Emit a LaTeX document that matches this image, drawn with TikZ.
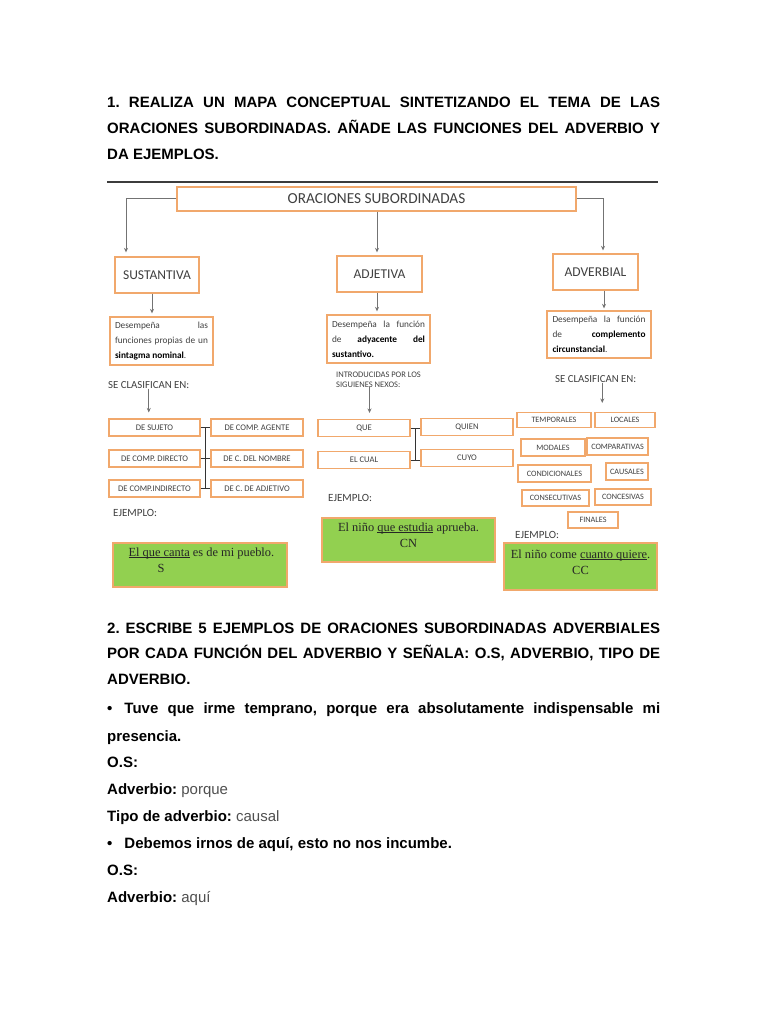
\documentclass[tikz,border=0pt]{standalone}
\usepackage{fontspec}
\setmainfont{Liberation Sans}
\newfontfamily\calibri{Carlito}
\newfontfamily\serifejemplo{Liberation Serif}
\usetikzlibrary{arrows.meta,calc,positioning}
\frenchspacing

\definecolor{naranjaborde}{RGB}{241,168,108}
\definecolor{verdeejemplo}{RGB}{146,208,80}
\definecolor{grisflecha}{RGB}{115,115,115}
\definecolor{grismapa}{RGB}{64,64,64}
\definecolor{griscuerpo}{RGB}{80,80,80}
\definecolor{grisregla}{RGB}{60,60,60}

\newcommand{\renglon}[1]{\makebox[553pt][s]{#1}}
\newcommand{\renglonmapa}[1]{\makebox[93pt][s]{#1}}
\newcommand{\negrita}[1]{\textbf{\color{black}#1}}
\newsavebox{\cajasub}
\newcommand{\subrayar}[1]{\sbox\cajasub{#1}\rlap{\rule[-1.8pt]{\wd\cajasub}{0.6pt}}\usebox\cajasub}

\begin{document}
\begin{tikzpicture}[x=1pt, y=-1pt, >={Stealth[length=4.5pt,width=4pt]},
    % Estilos de texto
    enunciado/.style={anchor=base west, inner sep=0pt, font=\fontsize{15}{15}\selectfont\bfseries},
    % Estilos del mapa
    caja/.style={draw=naranjaborde, line width=1.3pt, fill=white, inner sep=0pt,
        text=grismapa, font=\calibri\fontsize{13.5}{13.5}\selectfont},
    cajadesc/.style={caja, minimum width=103pt, minimum height=48pt, align=left,
        font=\calibri\fontsize{9.3}{15}\selectfont},
    celda/.style={caja, line width=1.1pt, minimum height=17pt,
        font=\calibri\fontsize{8.6}{8.6}\selectfont},
    rotulo/.style={anchor=west, inner sep=0pt, text=grismapa,
        font=\calibri\fontsize{10.8}{10.8}\selectfont},
    cajaverde/.style={draw=naranjaborde, line width=1.3pt, fill=verdeejemplo, inner sep=0pt},
    frase/.style={inner sep=0pt, text=black!85, font=\serifejemplo\fontsize{12.4}{16}\selectfont},
    flecha/.style={->, draw=grisflecha, line width=1pt},
    corchete/.style={draw=black!80, line width=0.9pt}
]
\useasboundingbox[fill=white] (0,0) rectangle (768,1024);

% =============================================
% CONSIGNA 1
% =============================================
\node[enunciado] (consigna1) at (107,108)
    {\renglon{1. REALIZA UN MAPA CONCEPTUAL SINTETIZANDO EL TEMA DE LAS}};
\node[enunciado] (consigna2) at (107,134)
    {\renglon{ORACIONES SUBORDINADAS. AÑADE LAS FUNCIONES DEL ADVERBIO Y}};
\node[enunciado] (consigna3) at (107,160) {DA EJEMPLOS.};

\draw[grisregla, line width=2pt] (107,182) -- (658,182);

% =============================================
% MAPA: NIVEL SUPERIOR
% =============================================
\node[caja, minimum width=399pt, minimum height=24pt, font=\calibri\fontsize{15.3}{15.3}\selectfont]
    (oraciones) at (376.5,199) {ORACIONES SUBORDINADAS};

\node[caja, minimum width=84pt, minimum height=36pt] (sust) at (157,275) {SUSTANTIVA};
\node[caja, minimum width=85pt, minimum height=36pt] (adj) at (379.5,274) {ADJETIVA};
\node[caja, minimum width=85pt, minimum height=36pt] (adv) at (595.5,272) {ADVERBIAL};

\coordinate (bajasust) at ([xshift=-31pt]sust.north);
\coordinate (bajaadj) at ([xshift=-2.5pt]adj.north);
\coordinate (bajaadv) at ([xshift=7.5pt]adv.north);

\draw[flecha, shorten >=4pt] (oraciones.west) -| (bajasust);
\draw[flecha, shorten >=3pt] (bajaadj |- oraciones.south) -- (bajaadj);
\draw[flecha, shorten >=3pt] (oraciones.east) -| (bajaadv);

% =============================================
% DESCRIPCIONES
% =============================================
\node[cajadesc] (sdesc) at (161.5,341)
    {\renglonmapa{Desempeña las}\\\renglonmapa{funciones propias de un}\\\negrita{sintagma nominal}.};
\node[cajadesc] (adesc) at (378.5,339)
    {\renglonmapa{Desempeña la función}\\\renglonmapa{de \negrita{adyacente} \negrita{del}}\\\negrita{sustantivo.}};
\node[cajadesc, minimum width=104pt, minimum height=47pt] (vdesc) at (599,334.5)
    {\renglonmapa{Desempeña la función}\\\renglonmapa{de \negrita{complemento}}\\\negrita{circunstancial}.};

\coordinate (piesust) at ([xshift=-5pt]sust.south);
\coordinate (pieadj) at ([xshift=-2.5pt]adj.south);
\coordinate (pieadv) at ([xshift=8.5pt]adv.south);

\draw[flecha, shorten >=3pt] (piesust) -- (piesust |- sdesc.north);
\draw[flecha, shorten >=3pt] (pieadj) -- (pieadj |- adesc.north);
\draw[flecha, shorten >=2pt] (pieadv) -- (pieadv |- vdesc.north);

% =============================================
% CLASIFICACION SUSTANTIVA
% =============================================
\node[rotulo] (sclasif) at (108,385) {SE CLASIFICAN EN:};

\node[celda, minimum width=91pt] (sujeto) at (154.5,427.5) {DE SUJETO};
\node[celda, minimum width=92pt] (agente) at (257,427.5) {DE COMP. AGENTE};
\node[celda, minimum width=91pt] (directo) at (154.5,458.5) {DE COMP. DIRECTO};
\node[celda, minimum width=92pt] (nombre) at (257,458.5) {DE C. DEL NOMBRE};
\node[celda, minimum width=91pt] (indirecto) at (154.5,488.5) {DE COMP.INDIRECTO};
\node[celda, minimum width=92pt] (adjetivo) at (257,488.5) {DE C. DE ADJETIVO};

\draw[flecha, shorten >=6pt] (sclasif.south) -- (sclasif.south |- sujeto.north);

\draw[corchete] (sujeto.east) -- (agente.west);
\draw[corchete] (directo.east) -- (nombre.west);
\draw[corchete] (indirecto.east) -- (adjetivo.west);
\draw[corchete] ($(sujeto.east)!.5!(agente.west)$) -- ($(indirecto.east)!.5!(adjetivo.west)$);

\node[rotulo, font=\calibri\fontsize{11}{11}\selectfont] (sejemplo) at (113,513) {EJEMPLO:};
\node[cajaverde, minimum width=174pt, minimum height=44pt] (sverde) at (200,565) {};
\node[frase, anchor=north west, align=left] (sfrase) at ([xshift=16pt,yshift=-5pt]sverde.north west)
    {\subrayar{El que canta} es de mi pueblo.\\\hspace*{29pt}S};

% =============================================
% NEXOS ADJETIVA
% =============================================
\node[rotulo, anchor=north west, align=left, font=\calibri\fontsize{8.5}{9.5}\selectfont]
    (nexos) at (336,372) {INTRODUCIDAS POR LOS\\SIGUIENES NEXOS:};

\node[celda, minimum width=92pt] (que) at (364,428) {QUE};
\node[celda, minimum width=92pt] (quien) at (467,427) {QUIEN};
\node[celda, minimum width=92pt] (elcual) at (364,460) {EL CUAL};
\node[celda, minimum width=92pt] (cuyo) at (467,458) {CUYO};

\coordinate (pienexos) at ([xshift=-9pt]nexos.south);
\draw[flecha, shorten >=6pt] (pienexos) -- (pienexos |- que.north);

\draw[corchete] (que.east) -- (que.east -| quien.west);
\draw[corchete] (elcual.east) -- (elcual.east -| cuyo.west);
\draw[corchete] ($(que.east)!.5!(que.east -| quien.west)$) -- ($(elcual.east)!.5!(elcual.east -| cuyo.west)$);

\node[rotulo, font=\calibri\fontsize{11}{11}\selectfont] (aejemplo) at (328,498) {EJEMPLO:};
\node[cajaverde, minimum width=173pt, minimum height=44pt] (averde) at (408.5,540) {};
\node[frase, anchor=north, align=center] (afrase) at ([yshift=-5pt]averde.north)
    {El niño \subrayar{que estudia} aprueba.\\CN};

% =============================================
% CLASIFICACION ADVERBIAL
% =============================================
\node[rotulo] (vclasif) at (555,379) {SE CLASIFICAN EN:};

\node[celda, minimum width=74pt, minimum height=15pt, font=\calibri\fontsize{8.2}{8.2}\selectfont] (temporales) at (554,420) {TEMPORALES};
\node[celda, minimum width=60pt, minimum height=15pt, font=\calibri\fontsize{8.2}{8.2}\selectfont] (locales) at (625,420) {LOCALES};
\node[celda, minimum width=64pt, font=\calibri\fontsize{8.2}{8.2}\selectfont] (modales) at (553,447.5) {MODALES};
\node[celda, minimum width=61pt, font=\calibri\fontsize{8.2}{8.2}\selectfont] (comparativas) at (617.5,446.5) {COMPARATIVAS};
\node[celda, minimum width=73pt, font=\calibri\fontsize{8.2}{8.2}\selectfont] (condicionales) at (554.5,473.5) {CONDICIONALES};
\node[celda, minimum width=42pt, font=\calibri\fontsize{8.2}{8.2}\selectfont] (causales) at (627,471.5) {CAUSALES};
\node[celda, minimum width=67pt, minimum height=16pt, font=\calibri\fontsize{8.2}{8.2}\selectfont] (consecutivas) at (555.5,498) {CONSECUTIVAS};
\node[celda, minimum width=56pt, minimum height=16pt, font=\calibri\fontsize{8.2}{8.2}\selectfont] (concesivas) at (623,497) {CONCESIVAS};
\node[celda, minimum width=50pt, minimum height=16pt, font=\calibri\fontsize{8.2}{8.2}\selectfont] (finales) at (593,520) {FINALES};

\coordinate (pievclasif) at ([xshift=6.5pt]vclasif.south);
\draw[flecha, shorten >=9pt] (pievclasif) -- (pievclasif |- temporales.north);

\node[rotulo, font=\calibri\fontsize{11}{11}\selectfont] (vejemplo) at (515,535) {EJEMPLO:};
\node[cajaverde, minimum width=153pt, minimum height=47pt] (vverde) at (580.5,566.5) {};
\node[frase, anchor=north, align=center] (vfrase) at ([yshift=-7pt]vverde.north)
    {El niño come \subrayar{cuanto quiere}.\\CC};

% =============================================
% CONSIGNA 2
% =============================================
\node[enunciado] (consigna4) at (107,633)
    {\renglon{2. ESCRIBE 5 EJEMPLOS DE ORACIONES SUBORDINADAS ADVERBIALES}};
\node[enunciado] (consigna5) at (107,658)
    {\renglon{POR CADA FUNCIÓN DEL ADVERBIO Y SEÑALA: O.S, ADVERBIO, TIPO DE}};
\node[enunciado] (consigna6) at (107,684) {ADVERBIO.};

\node[enunciado] (ejemplo1) at (107,713)
    {\renglon{\textbullet\hspace{12pt}Tuve que irme temprano, porque era absolutamente indispensable mi}};
\node[enunciado] (ejemplo1b) at (107,741) {presencia.};
\node[enunciado] (os1) at (107,767) {O.S:};
\node[enunciado] (adv1) at (107,794) {Adverbio: {\mdseries\color{griscuerpo}porque}};
\node[enunciado] (tipo1) at (107,821) {Tipo de adverbio: {\mdseries\color{griscuerpo}causal}};
\node[enunciado] (ejemplo2) at (107,848) {\textbullet\hspace{12pt}Debemos irnos de aquí, esto no nos incumbe.};
\node[enunciado] (os2) at (107,875) {O.S:};
\node[enunciado] (adv2) at (107,902) {Adverbio: {\mdseries\color{griscuerpo}aquí}};

\end{tikzpicture}
\end{document}
